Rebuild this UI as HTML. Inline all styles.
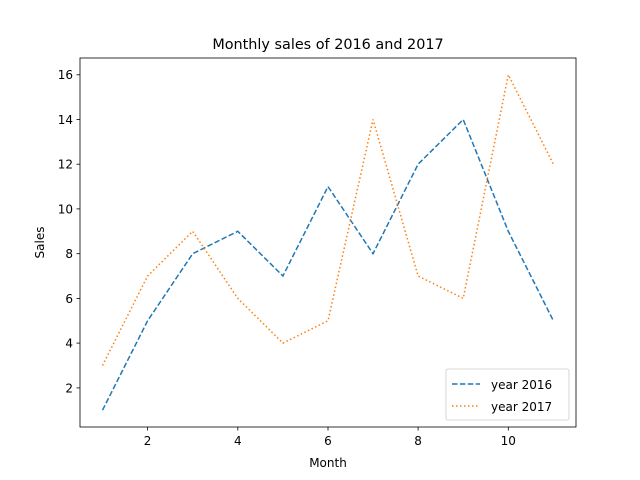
<!DOCTYPE html>
<html><head><style>body{margin:0;background:#fff}svg{display:block}text{font-family:"DejaVu Sans","Liberation Sans",sans-serif;fill:#000}</style></head><body>
<svg width="640" height="480" viewBox="0 0 640 480" xmlns="http://www.w3.org/2000/svg">
<rect width="640" height="480" fill="#fff"/>
<text x="328" y="49" font-size="14.4" text-anchor="middle">Monthly sales of 2016 and 2017</text>
<polyline fill="none" stroke="#1f77b4" stroke-width="1.5" stroke-dasharray="5.5,2.4" points="102.5,410.2 147.6,320.8 192.7,253.7 237.8,231.3 282.9,276.0 328,186.6 373,253.7 418.1,164.2 463.2,119.5 508.3,231.3 553.4,320.8"/>
<polyline fill="none" stroke="#ff7f0e" stroke-width="1.5" stroke-dasharray="1.5,2.5" points="102.5,365.5 147.6,276.0 192.7,231.3 237.8,298.4 282.9,343.1 328,320.8 373,119.5 418.1,276.0 463.2,298.4 508.3,74.8 553.4,164.2"/>
<rect x="80" y="58" width="496" height="369" fill="none" stroke="#000" stroke-width="0.8"/>
<g stroke="#000" stroke-width="0.8">
<line x1="147.6" y1="427" x2="147.6" y2="430.5"/><line x1="237.8" y1="427" x2="237.8" y2="430.5"/><line x1="328" y1="427" x2="328" y2="430.5"/><line x1="418.1" y1="427" x2="418.1" y2="430.5"/><line x1="508.3" y1="427" x2="508.3" y2="430.5"/>
<line x1="76.5" y1="387.9" x2="80" y2="387.9"/><line x1="76.5" y1="343.1" x2="80" y2="343.1"/><line x1="76.5" y1="298.4" x2="80" y2="298.4"/><line x1="76.5" y1="253.7" x2="80" y2="253.7"/><line x1="76.5" y1="208.9" x2="80" y2="208.9"/><line x1="76.5" y1="164.2" x2="80" y2="164.2"/><line x1="76.5" y1="119.5" x2="80" y2="119.5"/><line x1="76.5" y1="74.8" x2="80" y2="74.8"/>
</g>
<g font-size="12" text-anchor="middle">
<text x="147.6" y="445">2</text><text x="237.8" y="445">4</text><text x="328" y="445">6</text><text x="418.1" y="445">8</text><text x="508.3" y="445">10</text>
</g>
<g font-size="12" text-anchor="end">
<text x="73" y="392.3">2</text><text x="73" y="347.5">4</text><text x="73" y="302.8">6</text><text x="73" y="258.1">8</text><text x="73" y="213.3">10</text><text x="73" y="168.6">12</text><text x="73" y="123.9">14</text><text x="73" y="79.2">16</text>
</g>
<text x="328" y="467" font-size="12" text-anchor="middle">Month</text>
<text transform="translate(44,242.5) rotate(-90)" font-size="12" text-anchor="middle">Sales</text>
<rect x="446" y="369" width="123" height="51" rx="2" fill="#fff" fill-opacity="0.8" stroke="#ccc" stroke-width="0.8"/>
<line x1="452" y1="384" x2="480" y2="384" stroke="#1f77b4" stroke-width="1.5" stroke-dasharray="5.5,2.4"/>
<line x1="452" y1="406" x2="480" y2="406" stroke="#ff7f0e" stroke-width="1.5" stroke-dasharray="1.5,2.5"/>
<text x="491" y="389" font-size="12">year 2016</text>
<text x="491" y="411" font-size="12">year 2017</text>
</svg>
</body></html>
